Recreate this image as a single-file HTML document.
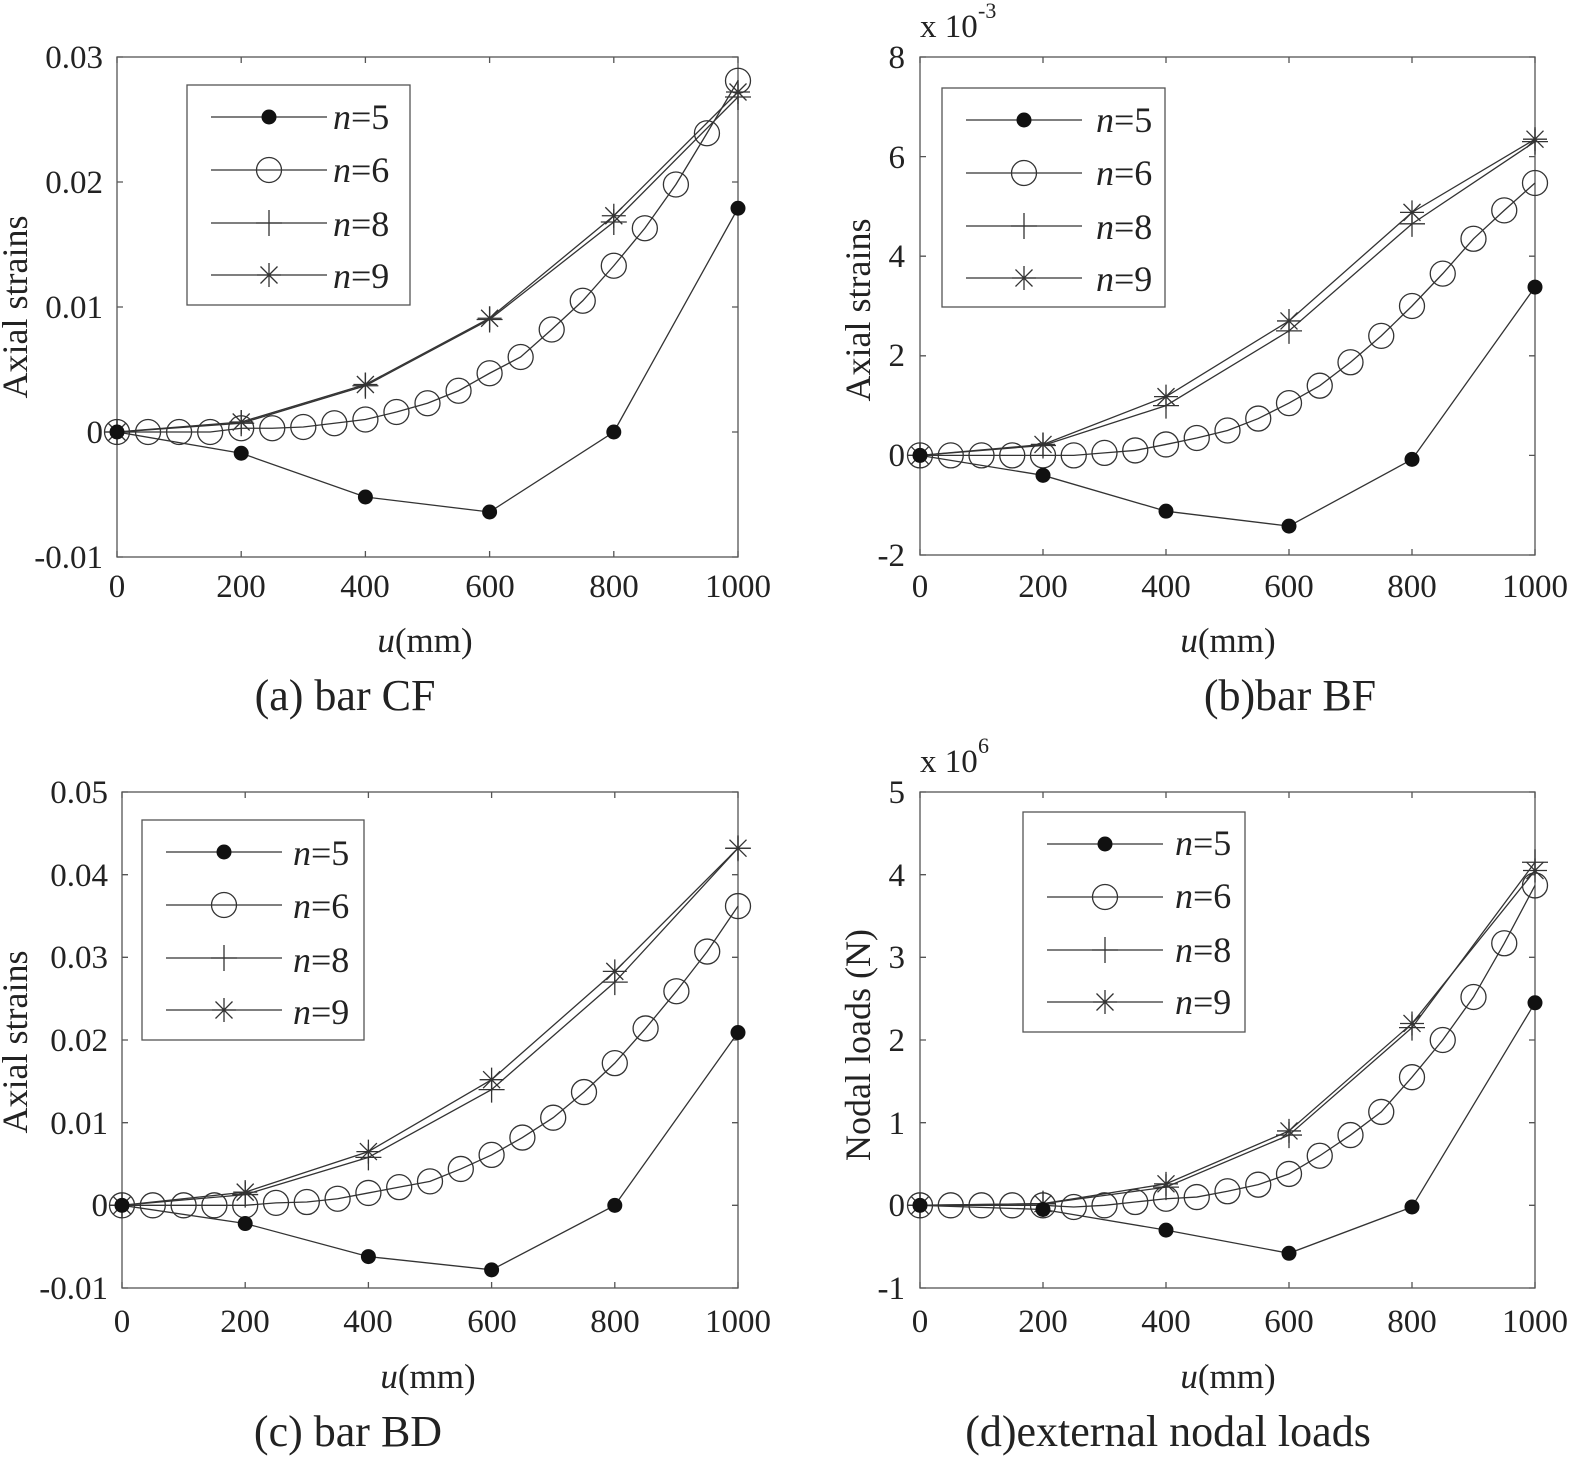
<!DOCTYPE html>
<html><head><meta charset="utf-8"><style>
html,body{margin:0;padding:0;background:#fff;}
svg{display:block;font-family:"Liberation Serif",serif;}
</style></head><body>
<svg id="s" width="1570" height="1460" viewBox="0 0 1570 1460" xmlns="http://www.w3.org/2000/svg">
<g font-size="33" fill="#222">
<!-- (a) -->
<text x="103" y="68" text-anchor="end">0.03</text>
<text x="103" y="193" text-anchor="end">0.02</text>
<text x="103" y="318" text-anchor="end">0.01</text>
<text x="103" y="443" text-anchor="end">0</text>
<text x="103" y="568" text-anchor="end">-0.01</text>
<text x="117" y="597" text-anchor="middle">0</text>
<text x="241" y="597" text-anchor="middle">200</text>
<text x="365" y="597" text-anchor="middle">400</text>
<text x="490" y="597" text-anchor="middle">600</text>
<text x="614" y="597" text-anchor="middle">800</text>
<text x="738" y="597" text-anchor="middle">1000</text>
<text x="425" y="652" text-anchor="middle" font-size="35"><tspan font-style="italic">u</tspan>(mm)</text>
<text transform="translate(27,307) rotate(-90)" text-anchor="middle" font-size="36">Axial strains</text>
<text x="345" y="710" text-anchor="middle" font-size="44">(a) bar CF</text>
<!-- (b) -->
<text x="905" y="68" text-anchor="end">8</text>
<text x="905" y="168" text-anchor="end">6</text>
<text x="905" y="267" text-anchor="end">4</text>
<text x="905" y="366" text-anchor="end">2</text>
<text x="905" y="466" text-anchor="end">0</text>
<text x="905" y="566" text-anchor="end">-2</text>
<text x="920" y="597" text-anchor="middle">0</text>
<text x="1043" y="597" text-anchor="middle">200</text>
<text x="1166" y="597" text-anchor="middle">400</text>
<text x="1289" y="597" text-anchor="middle">600</text>
<text x="1412" y="597" text-anchor="middle">800</text>
<text x="1535" y="597" text-anchor="middle">1000</text>
<text x="1228" y="652" text-anchor="middle" font-size="35"><tspan font-style="italic">u</tspan>(mm)</text>
<text transform="translate(870,310) rotate(-90)" text-anchor="middle" font-size="36">Axial strains</text>
<text x="920" y="37">x 10</text><text x="978" y="18" font-size="22">-3</text>
<text x="1290" y="710" text-anchor="middle" font-size="44">(b)bar BF</text>
<!-- (c) -->
<text x="108" y="803" text-anchor="end">0.05</text>
<text x="108" y="886" text-anchor="end">0.04</text>
<text x="108" y="968" text-anchor="end">0.03</text>
<text x="108" y="1051" text-anchor="end">0.02</text>
<text x="108" y="1134" text-anchor="end">0.01</text>
<text x="108" y="1216" text-anchor="end">0</text>
<text x="108" y="1299" text-anchor="end">-0.01</text>
<text x="122" y="1332" text-anchor="middle">0</text>
<text x="245" y="1332" text-anchor="middle">200</text>
<text x="368" y="1332" text-anchor="middle">400</text>
<text x="492" y="1332" text-anchor="middle">600</text>
<text x="615" y="1332" text-anchor="middle">800</text>
<text x="738" y="1332" text-anchor="middle">1000</text>
<text x="428" y="1388" text-anchor="middle" font-size="35"><tspan font-style="italic">u</tspan>(mm)</text>
<text transform="translate(27,1042) rotate(-90)" text-anchor="middle" font-size="36">Axial strains</text>
<text x="348" y="1446" text-anchor="middle" font-size="44">(c) bar BD</text>
<!-- (d) -->
<text x="905" y="803" text-anchor="end">5</text>
<text x="905" y="886" text-anchor="end">4</text>
<text x="905" y="968" text-anchor="end">3</text>
<text x="905" y="1051" text-anchor="end">2</text>
<text x="905" y="1134" text-anchor="end">1</text>
<text x="905" y="1216" text-anchor="end">0</text>
<text x="905" y="1299" text-anchor="end">-1</text>
<text x="920" y="1332" text-anchor="middle">0</text>
<text x="1043" y="1332" text-anchor="middle">200</text>
<text x="1166" y="1332" text-anchor="middle">400</text>
<text x="1289" y="1332" text-anchor="middle">600</text>
<text x="1412" y="1332" text-anchor="middle">800</text>
<text x="1535" y="1332" text-anchor="middle">1000</text>
<text x="1228" y="1388" text-anchor="middle" font-size="35"><tspan font-style="italic">u</tspan>(mm)</text>
<text transform="translate(870,1045) rotate(-90)" text-anchor="middle" font-size="36">Nodal loads (N)</text>
<text x="920" y="772">x 10</text><text x="978" y="753" font-size="22">6</text>
<text x="1168" y="1446" text-anchor="middle" font-size="44">(d)external nodal loads</text>
<!-- legend labels -->
<g font-size="36">
<text x="333" y="129"><tspan font-style="italic">n</tspan>=5</text>
<text x="333" y="182"><tspan font-style="italic">n</tspan>=6</text>
<text x="333" y="236"><tspan font-style="italic">n</tspan>=8</text>
<text x="333" y="288"><tspan font-style="italic">n</tspan>=9</text>
<text x="1096" y="132"><tspan font-style="italic">n</tspan>=5</text>
<text x="1096" y="185"><tspan font-style="italic">n</tspan>=6</text>
<text x="1096" y="239"><tspan font-style="italic">n</tspan>=8</text>
<text x="1096" y="291"><tspan font-style="italic">n</tspan>=9</text>
<text x="293" y="865"><tspan font-style="italic">n</tspan>=5</text>
<text x="293" y="918"><tspan font-style="italic">n</tspan>=6</text>
<text x="293" y="972"><tspan font-style="italic">n</tspan>=8</text>
<text x="293" y="1024"><tspan font-style="italic">n</tspan>=9</text>
<text x="1175" y="855"><tspan font-style="italic">n</tspan>=5</text>
<text x="1175" y="908"><tspan font-style="italic">n</tspan>=6</text>
<text x="1175" y="962"><tspan font-style="italic">n</tspan>=8</text>
<text x="1175" y="1014"><tspan font-style="italic">n</tspan>=9</text>
</g>
</g>
<g id="g" stroke="#333" fill="none" stroke-width="1.3"></g>
</svg>
<script>
var g=document.getElementById('g'),NS='http://www.w3.org/2000/svg';
function el(t,a){var e=document.createElementNS(NS,t);for(var k in a)e.setAttribute(k,a[k]);g.appendChild(e);return e;}
function circ(x,y){el('circle',{cx:x,cy:y,r:12.5,fill:'#fff','fill-opacity':0,stroke:'#333'});}
function dot(x,y){el('circle',{cx:x,cy:y,r:7.5,fill:'#111',stroke:'none'});}
function plus(x,y){el('path',{d:'M'+(x-13)+' '+y+'h26M'+x+' '+(y-13)+'v26'});}
function star(x,y){var r=12,d=8.5;el('path',{d:'M'+(x-r)+' '+y+'h'+2*r+'M'+x+' '+(y-r)+'v'+2*r+'M'+(x-d)+' '+(y-d)+'l'+2*d+' '+2*d+'M'+(x-d)+' '+(y+d)+'l'+2*d+' '+(-2*d)});}
function line(p){el('polyline',{points:p.map(function(q){return q.join(',')}).join(' ')});}
function panel(o){
 var L=o.L,R=o.R,T=o.T,B=o.B;
 el('rect',{x:L,y:T,width:R-L,height:B-T,stroke:'#555'});
 var X=function(u){return L+(R-L)*u/1000},Y=function(v){return B-(B-T)*(v-o.y0)/(o.y1-o.y0)};
 for(var i=0;i<=5;i++){var x=X(i*200);el('path',{d:'M'+x+' '+B+'v-6M'+x+' '+T+'v6',stroke:'#555'});}
 o.yt.forEach(function(v){var y=Y(v);el('path',{d:'M'+L+' '+y+'h6M'+R+' '+y+'h-6',stroke:'#555'});});
 var u6=[],u5=[0,200,400,600,800,1000];for(i=0;i<=20;i++)u6.push(i*50);
 var p5=u5.map(function(u,i){return [X(u),Y(o.n5[i])]}),p6=u6.map(function(u,i){return [X(u),Y(o.n6[i])]}),
 p8=u5.map(function(u,i){return [X(u),Y(o.n8[i])]}),p9=u5.map(function(u,i){return [X(u),Y(o.n9[i])]});
 line(p6);line(p8);line(p9);line(p5);
 p6.forEach(function(p){circ(p[0],p[1])});p8.forEach(function(p){plus(p[0],p[1])});p9.forEach(function(p){star(p[0],p[1])});p5.forEach(function(p){dot(p[0],p[1])});
 var lg=o.lg;el('rect',{x:lg[0],y:lg[1],width:lg[2]-lg[0],height:lg[3]-lg[1],stroke:'#555'});
 var ys=[32,85,138,190],lx0=lg[0]+24,lx1=lg[0]+140,mx=lg[0]+82;
 ys.forEach(function(d,k){var y=lg[1]+d;el('path',{d:'M'+lx0+' '+y+'H'+lx1});[dot,circ,plus,star][k](mx,y);});
}
panel({L:117,R:738,T:57,B:557,y0:-0.01,y1:0.03,yt:[-0.01,0,0.01,0.02,0.03],lg:[187,85,410,305],
 n5:[0,-0.0017,-0.0052,-0.0064,0,0.0179],
 n6:[0,0,0,0,0.0003,0.0003,0.0004,0.0007,0.001,0.0016,0.0023,0.0033,0.0047,0.006,0.0082,0.0105,0.0133,0.0163,0.0198,0.0239,0.0281],
 n8:[0,0.0007,0.0037,0.009,0.0168,0.0268],n9:[0,0.0008,0.0038,0.0091,0.0173,0.0272]});
panel({L:920,R:1535,T:57,B:555,y0:-2,y1:8,yt:[-2,0,2,4,6,8],lg:[942,88,1165,307],
 n5:[0,-0.4,-1.12,-1.42,-0.08,3.38],
 n6:[0,0,0,0,0,0,0.05,0.1,0.22,0.35,0.5,0.74,1.05,1.4,1.87,2.4,3.0,3.65,4.35,4.92,5.47],
 n8:[0,0.2,1.0,2.5,4.65,6.3],n9:[0,0.22,1.18,2.7,4.88,6.35]});
panel({L:122,R:738,T:792,B:1288,y0:-0.01,y1:0.05,yt:[-0.01,0,0.01,0.02,0.03,0.04,0.05],lg:[142,820,364,1040],
 n5:[0,-0.0022,-0.0062,-0.0078,0,0.0209],
 n6:[0,0,0,0,0,0.0003,0.0004,0.0008,0.0015,0.0022,0.0029,0.0044,0.0061,0.0082,0.0106,0.0137,0.0172,0.0214,0.0259,0.0307,0.0362],
 n8:[0,0.0013,0.0058,0.014,0.027,0.0432],n9:[0,0.0016,0.0065,0.0152,0.0283,0.0432]});
panel({L:920,R:1535,T:792,B:1288,y0:-1,y1:5,yt:[-1,0,1,2,3,4,5],lg:[1023,812,1245,1032],
 n5:[0,-0.05,-0.3,-0.58,-0.02,2.45],
 n6:[0,0,0,0,0,-0.02,0,0.04,0.08,0.1,0.17,0.25,0.38,0.6,0.85,1.13,1.55,2.0,2.52,3.17,3.87],
 n8:[0,0.02,0.22,0.85,2.15,4.15],n9:[0,0.02,0.26,0.9,2.2,4.05]});
</script>
</body></html>
